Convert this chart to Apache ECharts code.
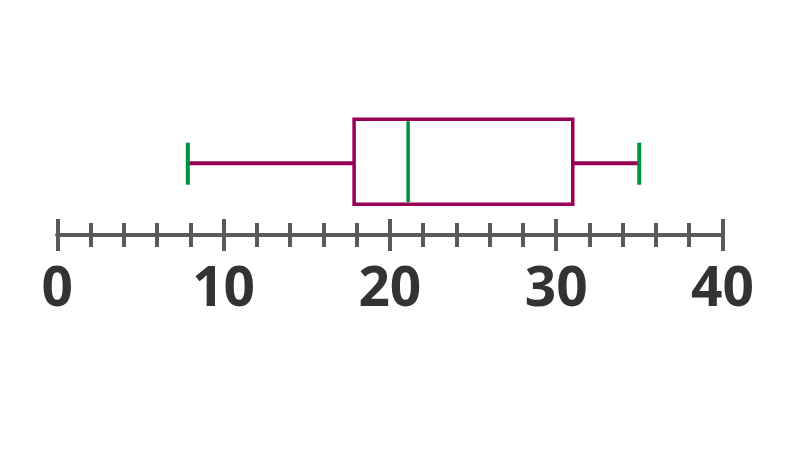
<!DOCTYPE html>
<html>
<head>
<meta charset="utf-8">
<script src="https://cdn.jsdelivr.net/npm/echarts@6/dist/echarts.min.js"></script>
<style>html,body{margin:0;padding:0;background:#fff;}#c{width:800px;height:450px;}</style>
</head>
<body>
<div id="c"></div>
<script>
// five-number summary: [min, Q1, median, Q3, max]
var categories = ['A'];
var boxValues = [[7.85, 17.85, 21.1, 31.0, 35.0]];
var tickLabels = [0, 10, 20, 30, 40];

var BOX = '#990055';
var GREEN = '#009140';
var AXIS = '#5a5a5a';

var chart = echarts.init(document.getElementById('c'));

function axisCommon(inside) {
  return {
    type: 'value', min: 0, max: 40, interval: 10, position: 'bottom',
    axisLine: { show: true, lineStyle: { color: AXIS, width: 4 } },
    axisTick: { show: true, inside: inside, length: 16, lineStyle: { color: AXIS, width: 4 } },
    minorTick: { show: true, splitNumber: 5, length: 12, lineStyle: { color: AXIS, width: 4 } },
    splitLine: { show: false },
    minorSplitLine: { show: false }
  };
}

var xa0 = axisCommon(false);
xa0.axisLabel = {
  show: true, margin: 28, color: '#333',
  fontFamily: 'Open Sans', fontWeight: 'bold', fontSize: 55,
  formatter: function (v) { return tickLabels.indexOf(v) >= 0 ? String(v) : ''; }
};
var xa1 = axisCommon(true);
xa1.axisLabel = { show: false };

chart.setOption({
  animation: false,
  grid: { left: 57.3, right: 77.6, top: 88.4, bottom: 215 },
  xAxis: [xa0, xa1],
  yAxis: { type: 'category', data: categories, show: false },
  series: [{
    type: 'custom',
    xAxisIndex: 0,
    data: boxValues.map(function (d, i) { return [i].concat(d); }),
    encode: { x: [1, 2, 3, 4, 5], y: 0 },
    renderItem: function (params, api) {
      var cat = api.value(0);
      var pMin = api.coord([api.value(1), cat]);
      var pQ1 = api.coord([api.value(2), cat]);
      var pMed = api.coord([api.value(3), cat]);
      var pQ3 = api.coord([api.value(4), cat]);
      var pMax = api.coord([api.value(5), cat]);
      var band = api.size([0, 1])[1];
      var h = band * 0.58;
      var cy = pQ1[1];
      var capH = 42;
      return {
        type: 'group',
        children: [
          { type: 'line', shape: { x1: pMin[0], y1: cy + 1.5, x2: pQ1[0], y2: cy + 1.5 }, style: { stroke: BOX, lineWidth: 4 } },
          { type: 'line', shape: { x1: pQ3[0], y1: cy + 1.5, x2: pMax[0], y2: cy + 1.5 }, style: { stroke: BOX, lineWidth: 4 } },
          { type: 'rect', shape: { x: pQ1[0], y: cy - h / 2, width: pQ3[0] - pQ1[0], height: h }, style: { fill: '#fff', stroke: BOX, lineWidth: 3.5 } },
          { type: 'line', shape: { x1: pMed[0], y1: cy - h / 2 + 2, x2: pMed[0], y2: cy + h / 2 - 2 }, style: { stroke: GREEN, lineWidth: 3.5 } },
          { type: 'line', shape: { x1: pMin[0], y1: cy + 2 - capH / 2, x2: pMin[0], y2: cy + 2 + capH / 2 }, style: { stroke: GREEN, lineWidth: 4 } },
          { type: 'line', shape: { x1: pMax[0], y1: cy + 2 - capH / 2, x2: pMax[0], y2: cy + 2 + capH / 2 }, style: { stroke: GREEN, lineWidth: 4 } }
        ]
      };
    }
  }]
});
</script>
</body>
</html>
